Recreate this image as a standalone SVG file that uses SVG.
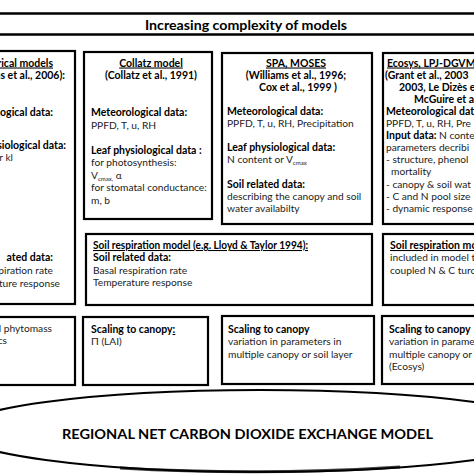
<svg xmlns="http://www.w3.org/2000/svg" width="474" height="474" viewBox="0 0 474 474">
<style>
text{font-family:Lato,"Liberation Sans",sans-serif;font-size:10.2px;fill:#1c1c1c}
.b{font-weight:bold;fill:#000;font-size:10.5px}
.u{text-decoration:underline}
.c{text-anchor:middle}
.e{text-anchor:end}
.box{fill:#fff;stroke:#000;stroke-width:2.2}
.rule{stroke:#000;stroke-width:2.6}
.sub{font-size:6px}
</style>
<rect width="474" height="474" fill="#fff"/>
<g id="header">
<line class="rule" x1="0" y1="13.5" x2="474" y2="13.5"/>
<line class="rule" x1="0" y1="34.5" x2="474" y2="34.5"/>
<text class="b c" x="246" y="29.5" style="font-size:12.8px" textLength="202" lengthAdjust="spacingAndGlyphs">Increasing complexity of models</text>
</g>
<g id="empirical">
<rect class="box" x="-5" y="51" width="80" height="253"/>
<text class="b u e" x="53" y="66.5">rical models</text>
<text class="b e" x="65" y="79">ns et al., 2006):</text>
<text class="b e" x="53" y="116">ological data:</text>
<text class="b e" x="66" y="148.5">siological data:</text>
<text class="e" x="13" y="161">r kl</text>
<text class="b e" x="53" y="261">ated data:</text>
<text class="e" x="53" y="274">piration rate</text>
<text class="e" x="60" y="287">ture response</text>
</g>
<g id="collatz">
<rect class="box" x="84" y="52" width="128" height="167"/>
<text class="b u c" x="151" y="66.5">Collatz model</text>
<text class="b c" x="151" y="79">(Collatz et al., 1991)</text>
<text class="b" x="91" y="116">Meteorological data:</text>
<text x="91" y="128.5">PPFD, T, u, RH</text>
<text class="b" x="91" y="153.5">Leaf physiological data :</text>
<text x="91" y="166">for photosynthesis:</text>
<text x="91" y="178.5">V<tspan class="sub" dy="2">cmax,</tspan><tspan dy="-2"> α</tspan></text>
<text x="91" y="191">for stomatal conductance:</text>
<text x="91" y="203.5">m, b</text>
</g>
<g id="spa">
<rect class="box" x="222" y="53" width="150" height="171"/>
<text class="b u c" x="296" y="66.5">SPA, MOSES</text>
<text class="b c" x="296" y="78.6">(Williams et al., 1996;</text>
<text class="b c" x="298" y="90.7">Cox et al., 1999 )</text>
<text class="b" x="227" y="114.9">Meteorological data:</text>
<text x="227" y="127">PPFD, T, u, RH, Precipitation</text>
<text class="b" x="227" y="151.2">Leaf physiological data:</text>
<text x="227" y="163.3">N content or V<tspan class="sub" dy="2">cmax</tspan></text>
<text class="b" x="227" y="187.5">Soil related data:</text>
<text x="227" y="199.6">describing the canopy and soil</text>
<text x="227" y="211.7">water availabilty</text>
</g>
<g id="ecosys">
<rect class="box" x="383" y="53" width="100" height="171"/>
<text class="b u" x="387" y="66.5">Ecosys, LPJ-DGVM</text>
<text class="b" x="385" y="78.6">(Grant et al., 2003</text>
<text class="b" x="399" y="90.7">2003, Le Dizès e</text>
<text class="b" x="414" y="102.8">McGuire et al</text>
<text class="b" x="386" y="114.9">Meteorological dat</text>
<text x="386" y="127">PPFD, T, u, RH, Pre</text>
<text x="386" y="139.1"><tspan class="b">Input data:</tspan> N conte</text>
<text x="386" y="151.2">parameters decribi</text>
<text x="386" y="163.3">- structure, phenol</text>
<text x="391" y="175.4">mortality</text>
<text x="386" y="187.5">- canopy &amp; soil wat</text>
<text x="386" y="199.6">- C and N pool size</text>
<text x="386" y="211.7">- dynamic response</text>
</g>
<g id="soil">
<rect class="box" x="86" y="234" width="286" height="71"/>
<text class="b u" x="93" y="249" textLength="215" lengthAdjust="spacingAndGlyphs">Soil respiration model (e.g. Lloyd &amp; Taylor 1994):</text>
<text class="b" x="93" y="261.3">Soil related data:</text>
<text x="93" y="273.6">Basal respiration rate</text>
<text x="93" y="285.9">Temperature response</text>
</g>
<g id="soil-coupled">
<rect class="box" x="383" y="234" width="100" height="71"/>
<text class="b u" x="390" y="249">Soil respiration mo</text>
<text x="390" y="261.3">included in model t</text>
<text x="390" y="273.6">coupled N &amp; C turow</text>
</g>
<g id="scale1">
<rect class="box" x="-5" y="317" width="80" height="68"/>
<text class="e" x="52" y="332">l phytomass</text>
<text class="e" x="7" y="344.3">cs</text>
</g>
<g id="scale2">
<rect class="box" x="83" y="317" width="125" height="68"/>
<text class="b" x="91" y="333">Scaling to canopy<tspan class="u">:</tspan></text>
<text x="91" y="345.3">Π  (LAI)</text>
</g>
<g id="scale3">
<rect class="box" x="222" y="316" width="152" height="68"/>
<text class="b" x="228" y="333">Scaling to canopy</text>
<text x="228" y="345.3">variation in parameters in</text>
<text x="228" y="357.6">multiple canopy or soil layer</text>
</g>
<g id="scale4">
<rect class="box" x="382" y="316" width="100" height="68"/>
<text class="b" x="389" y="333">Scaling to canopy</text>
<text x="389" y="345.3">variation in parame</text>
<text x="389" y="357.6">multiple canopy or s</text>
<text x="389" y="369.9">(Ecosys)</text>
</g>
<g id="regional">
<path d="M 120 468 Q 260 476 400 467" fill="none" stroke="#444" stroke-width="3"/>
<ellipse cx="260" cy="431" rx="303" ry="41" fill="none" stroke="#000" stroke-width="2"/>
<text class="b c" x="247.5" y="439" style="font-size:14px" textLength="371" lengthAdjust="spacingAndGlyphs">REGIONAL NET CARBON DIOXIDE EXCHANGE MODEL</text>
</g>
<g id="connectors"></g>
</svg>
